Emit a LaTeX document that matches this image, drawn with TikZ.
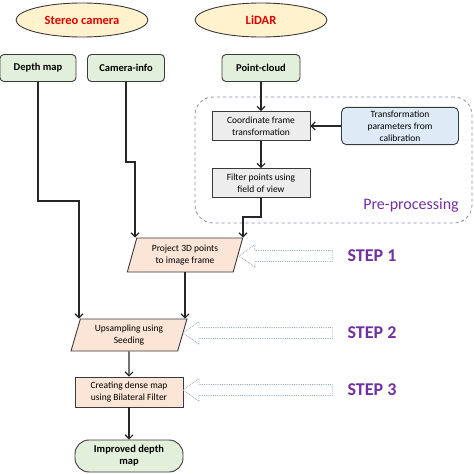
\documentclass[tikz,border=0pt]{standalone}
\usepackage{fontspec}
\setmainfont{Carlito}
\usepackage{tikz}
\usetikzlibrary{positioning, shapes.geometric, shapes.arrows, arrows.meta}
\definecolor{linegray}{HTML}{3A3A3A}
\definecolor{camfill}{HTML}{FFF2CC}
\definecolor{camred}{HTML}{E00000}
\definecolor{datafill}{HTML}{E2EFDA}
\definecolor{procfill}{HTML}{EDEDED}
\definecolor{calibfill}{HTML}{DEEBF7}
\definecolor{stepfill}{HTML}{FBE5D6}
\definecolor{steppurple}{HTML}{7030A0}
\definecolor{dashgray}{HTML}{7F8FA6}
\definecolor{hollowblue}{HTML}{9AA8BC}

\tikzset{
    src/.style={ellipse, draw=linegray, line width=0.9pt, fill=camfill, minimum width=132pt, minimum height=34pt, text=camred, font=\fontsize{12.5}{14}\selectfont\bfseries},
    data/.style={rectangle, rounded corners=4pt, draw=linegray, line width=0.9pt, fill=datafill, minimum height=27pt, font=\fontsize{10.5}{12}\selectfont\bfseries},
    proc/.style={rectangle, draw=linegray, line width=0.9pt, fill=procfill, minimum width=98pt, minimum height=29pt, align=center, font=\fontsize{9.5}{12}\selectfont},
    calib/.style={rectangle, rounded corners=5pt, draw=linegray, line width=0.9pt, fill=calibfill, minimum width=117pt, minimum height=37pt, align=center, font=\fontsize{9.5}{12}\selectfont},
    slanted/.style={trapezium, trapezium left angle=75, trapezium right angle=105, trapezium stretches=true, draw=linegray, line width=0.9pt, fill=stepfill, minimum width=116pt, align=center, font=\fontsize{9.5}{12}\selectfont},
    stepbox/.style={rectangle, draw=linegray, line width=0.9pt, fill=stepfill, minimum width=108pt, minimum height=30pt, align=center, font=\fontsize{9.5}{12}\selectfont},
    result/.style={rectangle, rounded corners=14pt, draw=linegray, line width=0.9pt, fill=datafill, minimum width=108pt, minimum height=32pt, align=center, font=\fontsize{10.5}{12}\selectfont\bfseries},
    hollow/.style={single arrow, shape border rotate=180, draw=hollowblue, densely dotted, line width=0.8pt, fill=white, inner sep=5pt, single arrow head extend=6pt, single arrow tip angle=72},
    steplabel/.style={text=steppurple, font=\fontsize{18}{20}\selectfont\bfseries},
    flow/.style={-{Straight Barb[length=4pt, width=8pt]}, line width=1.1pt, draw=black!85}
}

\begin{document}
\begin{tikzpicture}[x=1pt, y=-1pt, on grid]
    \useasboundingbox (0,0) rectangle (474,474);

    \node[src] (stereo) at (82,20) {Stereo camera};
    \node[src, right=179pt of stereo] (lidar) {LiDAR};
    \node[data, minimum width=76pt] (depth) at (38,68) {Depth map};
    \node[data, minimum width=77pt, right=88pt of depth] (caminfo) {Camera-info};
    \node[data, minimum width=78pt, below=48pt of lidar] (cloud) {Point-cloud};

    \node[draw=dashgray, dashed, line width=0.8pt, rounded corners=18pt, minimum width=277pt, minimum height=126pt] (prebox) at (333.5,160) {};
    \node[text=steppurple, font=\fontsize{16}{18}\selectfont] (pretext) at (411,205) {Pre-processing};

    \node[proc, below=58pt of cloud] (coord) {Coordinate frame\\transformation};
    \node[calib, right=139pt of coord] (calib) {Transformation\\parameters from\\calibration};
    \node[proc, below=57pt of coord] (fov) {Filter points using\\field of view};

    \node[slanted, minimum height=34pt] (project) at (185,255) {Project 3D points\\to image frame};
    \node[slanted, minimum height=32pt] (upsample) at (129,335) {Upsampling using\\Seeding};
    \node[stepbox, below=57pt of upsample] (dense) {Creating dense map\\using Bilateral Filter};
    \node[result, below=64pt of dense] (improved) {Improved depth\\map};

    \node[hollow, minimum height=93pt] (arrow1) at (289.5,256) {};
    \node[hollow, minimum height=149pt] (arrow2) at (261.5,333) {};
    \node[hollow, minimum height=149pt] (arrow3) at (261.5,390) {};
    \node[steplabel] (step1) at (372,256) {STEP 1};
    \node[steplabel] (step2) at (372,333) {STEP 2};
    \node[steplabel] (step3) at (372,390) {STEP 3};

    \coordinate (depthbend) at (79,201);
    \coordinate (infobend) at (135,162);
    \coordinate (fovbend) at (243,217);

    \draw[flow] (depth) |- (depthbend) -- (depthbend |- upsample.north);
    \draw[flow] (caminfo) |- (infobend) -- (infobend |- project.north);
    \draw[flow] (cloud) -- (coord);
    \draw[flow] (calib) -- (coord);
    \draw[flow] (coord) -- (fov);
    \draw[flow] (fov) |- (fovbend) -- (fovbend |- project.north);
    \draw[flow] (project.south) -- (project.south |- upsample.north);
    \draw[flow] (upsample) -- (dense);
    \draw[flow] (dense) -- (improved);
\end{tikzpicture}
\end{document}
